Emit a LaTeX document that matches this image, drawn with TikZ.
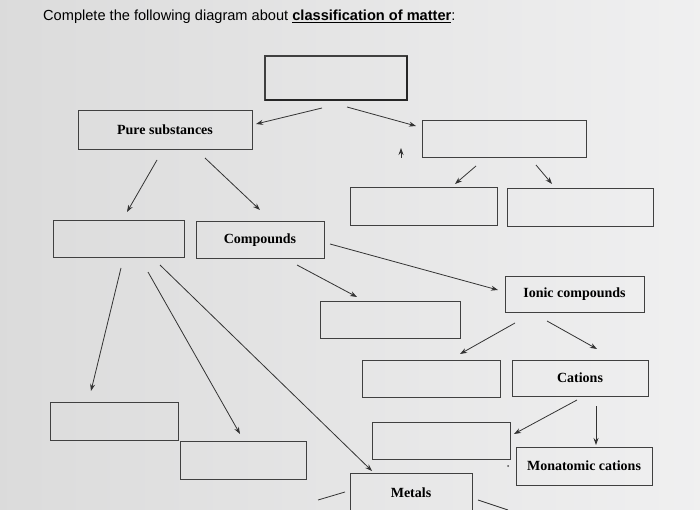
\documentclass[tikz,border=0pt]{standalone}
\usepackage{fontspec}
\setmainfont{Liberation Serif}
\newfontfamily\titlefont{Liberation Sans}
\usetikzlibrary{arrows.meta}
\begin{document}
\begin{tikzpicture}[x=1pt,y=-1pt,
  bx/.style={draw=black!75,line width=0.9pt,inner sep=0pt},
  lbl/.style={font=\bfseries\fontsize{14}{16}\selectfont},
  arr/.style={draw=black!80,line width=0.8pt,-{Stealth[length=7pt,width=5pt]}},
  ln/.style={draw=black!80,line width=0.8pt}]
\fill[left color=black!14,right color=blue!4!black!6] (0,0) rectangle (700,510);
\useasboundingbox (0,0) rectangle (700,510);
\node[anchor=west,inner sep=0pt,font=\titlefont\fontsize{14.6}{17}\selectfont] (title) at (43,17)
  {Complete the following diagram about \textbf{\underline{classification of matter}}:};
% boxes
\draw[bx,line width=1.2pt] (265,56) rectangle (407,100) coordinate (tbr);
\draw[black!85,line width=2.2pt] (265,100) -- (407,100) -- (407,56);
\coordinate (top) at (336,78);
\node[bx,minimum width=174pt,minimum height=39pt,lbl] (pure) at (165,129.5) {Pure substances};
\node[bx,minimum width=164pt,minimum height=37pt] (ra) at (504,138.5) {};
\node[bx,minimum width=147pt,minimum height=38pt] (b1) at (423.5,206) {};
\node[bx,minimum width=146pt,minimum height=38pt] (b2) at (580,207) {};
\node[bx,minimum width=131pt,minimum height=37pt] (lb) at (118.5,238.5) {};
\node[bx,minimum width=128pt,minimum height=37pt,lbl] (comp) at (260,240) {Compounds};
\node[bx,minimum width=139pt,minimum height=36pt,lbl] (ionic) at (574.5,294) {Ionic compounds};
\node[bx,minimum width=140pt,minimum height=37pt] (b3) at (390,319.5) {};
\node[bx,minimum width=138pt,minimum height=37pt] (b4) at (431,378.5) {};
\node[bx,minimum width=136pt,minimum height=36pt,lbl] (cat) at (580,378) {Cations};
\node[bx,minimum width=128pt,minimum height=38pt] (b5) at (114,421) {};
\node[bx,minimum width=138pt,minimum height=37pt] (b6) at (441,440.5) {};
\node[bx,minimum width=136pt,minimum height=38pt,lbl] (mono) at (584,466) {Monatomic cations};
\node[bx,minimum width=126pt,minimum height=38pt] (b7) at (243,460) {};
\node[bx,minimum width=122pt,minimum height=40pt,lbl] (met) at (411,493) {Metals};
% arrows
\coordinate (a1s) at (322,108); \coordinate (a1e) at (256,124);
\draw[arr] (a1s) -- (a1e);
\coordinate (a2s) at (347,107); \coordinate (a2e) at (416,126);
\draw[arr] (a2s) -- (a2e);
\coordinate (a3s) at (401,158); \coordinate (a3e) at (401,148);
\draw[arr] (a3s) -- (a3e);
\coordinate (a4s) at (157,160); \coordinate (a4e) at (127,212);
\draw[arr] (a4s) -- (a4e);
\coordinate (a5s) at (205,158); \coordinate (a5e) at (260,210);
\draw[arr] (a5s) -- (a5e);
\coordinate (a6s) at (476,166); \coordinate (a6e) at (455,184);
\draw[arr] (a6s) -- (a6e);
\coordinate (a7s) at (536,165); \coordinate (a7e) at (552,184);
\draw[arr] (a7s) -- (a7e);
\coordinate (a8s) at (121,268); \coordinate (a8e) at (91,391);
\draw[arr] (a8s) -- (a8e);
\coordinate (a9s) at (148,272); \coordinate (a9e) at (240,434);
\draw[arr] (a9s) -- (a9e);
\coordinate (a10s) at (160,265); \coordinate (a10e) at (372,471);
\draw[arr] (a10s) -- (a10e);
\coordinate (a11s) at (297,265); \coordinate (a11e) at (357,297);
\draw[arr] (a11s) -- (a11e);
\coordinate (a12s) at (330,244); \coordinate (a12e) at (498,290);
\draw[arr] (a12s) -- (a12e);
\coordinate (a13s) at (515,323); \coordinate (a13e) at (460,354);
\draw[arr] (a13s) -- (a13e);
\coordinate (a14s) at (547,321); \coordinate (a14e) at (597,349);
\draw[arr] (a14s) -- (a14e);
\coordinate (a15s) at (577,400); \coordinate (a15e) at (514,434);
\draw[arr] (a15s) -- (a15e);
\coordinate (a16s) at (596,406); \coordinate (a16e) at (596,445);
\draw[arr] (a16s) -- (a16e);
\coordinate (l1s) at (318,500); \coordinate (l1e) at (345,492);
\draw[ln] (l1s) -- (l1e);
\coordinate (l2s) at (478,500); \coordinate (l2e) at (508,510);
\draw[ln] (l2s) -- (l2e);
\fill[black!70] (508,466) circle (1pt);
\end{tikzpicture}
\end{document}
